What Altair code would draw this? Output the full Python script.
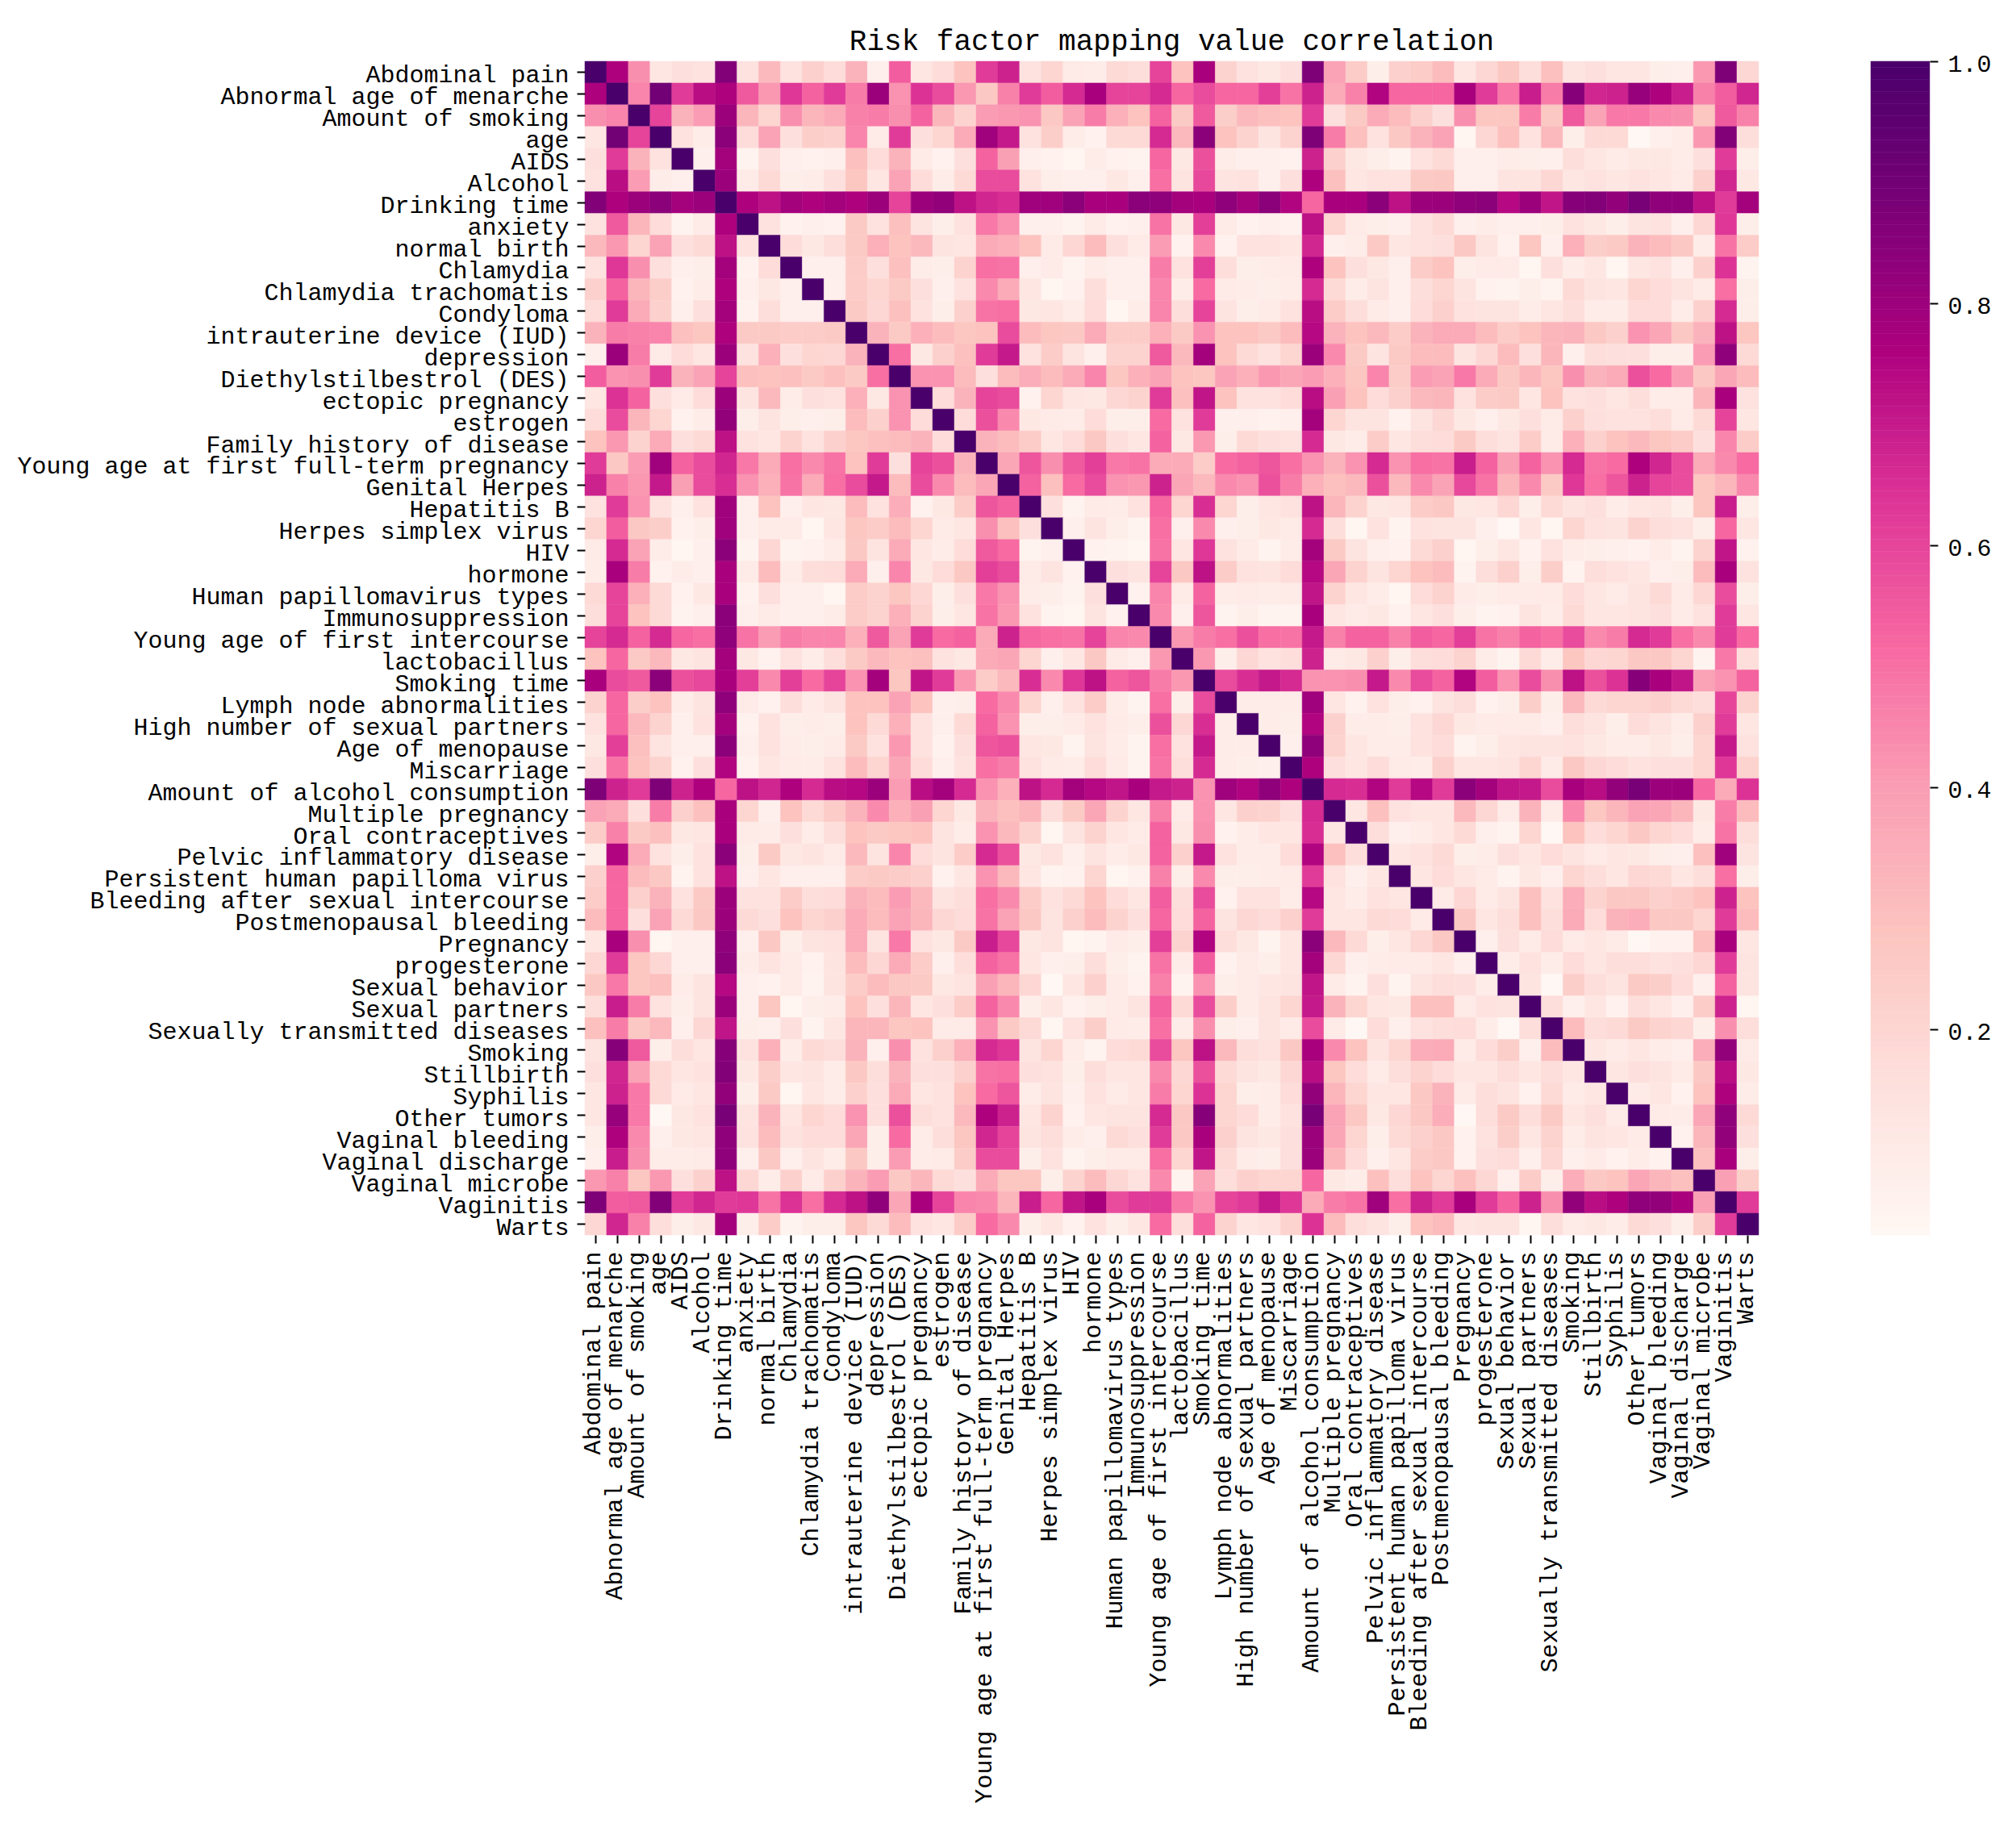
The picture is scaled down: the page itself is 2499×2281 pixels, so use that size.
import altair as alt
import pandas as pd

labels = ["Abdominal pain","Abnormal age of menarche","Amount of smoking","age","AIDS","Alcohol","Drinking time","anxiety","normal birth","Chlamydia","Chlamydia trachomatis","Condyloma","intrauterine device (IUD)","depression","Diethylstilbestrol (DES)","ectopic pregnancy","estrogen","Family history of disease","Young age at first full-term pregnancy","Genital Herpes","Hepatitis B","Herpes simplex virus","HIV","hormone","Human papillomavirus types","Immunosuppression","Young age of first intercourse","lactobacillus","Smoking time","Lymph node abnormalities","High number of sexual partners","Age of menopause","Miscarriage","Amount of alcohol consumption","Multiple pregnancy","Oral contraceptives","Pelvic inflammatory disease","Persistent human papilloma virus","Bleeding after sexual intercourse","Postmenopausal bleeding","Pregnancy","progesterone","Sexual behavior","Sexual partners","Sexually transmitted diseases","Smoking","Stillbirth","Syphilis","Other tumors","Vaginal bleeding","Vaginal discharge","Vaginal microbe","Vaginitis","Warts"]

# upper triangle of the correlation matrix, each row starting on the diagonal
r00 = [1,.76,.43,.12,.15,.14,.86,.14,.31,.14,.22,.17,.33,.07,.54,.12,.17,.28,.62,.68,.14,.20,.10,.09,.18,.16,.60,.28,.77,.21,.14,.11,.15,.87,.38,.24,.08,.22,.24,.30,.12,.19,.26,.16,.29,.13,.15,.12,.12,.08,.07,.41,.87,.19]
r01 = [1,.45,.90,.62,.73,.76,.55,.41,.63,.53,.62,.47,.80,.42,.64,.58,.41,.26,.46,.62,.54,.66,.77,.60,.60,.66,.52,.58,.52,.52,.61,.49,.68,.36,.46,.75,.52,.52,.52,.77,.62,.48,.69,.47,.85,.67,.68,.81,.76,.69,.46,.54,.67]
r02 = [1,.60,.33,.40,.80,.32,.20,.43,.32,.36,.46,.47,.43,.53,.32,.21,.40,.41,.42,.26,.38,.47,.34,.28,.53,.25,.55,.23,.31,.29,.28,.62,.15,.25,.36,.30,.22,.15,.43,.27,.27,.47,.26,.55,.38,.48,.48,.44,.43,.27,.55,.46]
r03 = [1,.14,.09,.84,.17,.38,.15,.23,.22,.45,.10,.62,.15,.20,.36,.79,.70,.14,.23,.09,.06,.18,.18,.66,.31,.84,.28,.21,.13,.21,.87,.47,.29,.14,.26,.33,.38,.04,.19,.29,.14,.31,.08,.18,.18,.03,.07,.09,.41,.86,.16]
r04 = [1,.07,.78,.05,.15,.07,.06,.07,.29,.17,.33,.10,.06,.15,.53,.39,.07,.06,.04,.09,.06,.05,.52,.11,.57,.09,.07,.07,.06,.68,.22,.11,.08,.05,.14,.18,.07,.07,.09,.08,.07,.16,.12,.10,.11,.11,.09,.15,.62,.08]
r05 = [1,.80,.10,.18,.08,.09,.15,.27,.12,.38,.17,.09,.18,.58,.58,.14,.08,.07,.07,.11,.07,.50,.13,.59,.13,.14,.07,.15,.76,.29,.12,.14,.14,.25,.26,.07,.07,.13,.13,.19,.12,.14,.12,.14,.12,.10,.22,.67,.11]
r06 = [1,.76,.72,.78,.76,.78,.76,.80,.60,.80,.82,.72,.67,.65,.79,.79,.84,.77,.77,.84,.83,.78,.77,.83,.78,.84,.75,.52,.77,.77,.84,.72,.80,.80,.83,.84,.74,.80,.71,.85,.86,.82,.88,.83,.83,.72,.62,.78]
r07 = [1,.14,.06,.07,.06,.25,.14,.29,.13,.08,.14,.48,.42,.07,.07,.05,.10,.06,.07,.49,.11,.61,.10,.06,.07,.06,.72,.20,.10,.08,.07,.14,.18,.07,.09,.07,.07,.08,.14,.11,.08,.13,.14,.07,.19,.63,.08]
r08 = [1,.17,.11,.16,.25,.34,.28,.31,.13,.12,.36,.34,.28,.10,.19,.30,.15,.10,.40,.06,.44,.06,.14,.14,.12,.67,.07,.09,.25,.12,.14,.15,.26,.13,.06,.27,.07,.34,.23,.25,.33,.30,.26,.09,.49,.24]
r09 = [1,.07,.07,.24,.15,.29,.09,.08,.21,.50,.49,.07,.10,.05,.09,.07,.07,.47,.14,.61,.16,.08,.09,.10,.76,.28,.15,.11,.07,.24,.28,.08,.10,.10,.04,.15,.09,.12,.04,.12,.14,.07,.22,.64,.05]
r10 = [1,.07,.24,.20,.25,.15,.07,.14,.44,.36,.12,.04,.06,.16,.07,.07,.45,.09,.51,.10,.09,.08,.09,.66,.18,.09,.13,.07,.16,.20,.13,.06,.05,.08,.05,.18,.13,.12,.20,.17,.13,.10,.50,.08]
r11 = [1,.25,.19,.29,.14,.08,.22,.49,.50,.11,.12,.09,.17,.04,.09,.45,.16,.60,.13,.08,.10,.14,.73,.24,.16,.10,.07,.17,.22,.14,.13,.13,.09,.12,.16,.09,.09,.17,.17,.09,.22,.66,.08]
r12 = [1,.33,.25,.34,.30,.27,.28,.58,.30,.27,.26,.36,.24,.24,.34,.25,.42,.28,.28,.25,.30,.74,.33,.28,.31,.24,.33,.36,.36,.30,.24,.28,.32,.33,.26,.22,.42,.37,.26,.33,.72,.27]
r13 = [1,.50,.11,.22,.29,.62,.70,.14,.24,.13,.07,.21,.21,.55,.31,.78,.28,.18,.14,.20,.80,.44,.25,.13,.25,.30,.30,.13,.19,.30,.15,.32,.07,.16,.15,.15,.08,.08,.40,.83,.18]
r14 = [1,.42,.42,.30,.15,.30,.35,.30,.36,.45,.27,.34,.38,.28,.27,.38,.34,.41,.37,.40,.34,.27,.45,.24,.40,.38,.48,.36,.26,.32,.27,.43,.33,.36,.57,.51,.40,.26,.37,.30]
r15 = [1,.17,.33,.60,.58,.06,.20,.12,.11,.19,.21,.62,.29,.71,.28,.14,.14,.17,.73,.39,.28,.17,.22,.31,.32,.14,.24,.25,.12,.28,.14,.15,.12,.16,.09,.09,.32,.77,.14]
r16 = [1,.17,.57,.44,.11,.10,.09,.17,.08,.08,.51,.14,.62,.07,.07,.06,.07,.78,.20,.13,.13,.06,.13,.19,.11,.07,.11,.15,.10,.22,.15,.14,.14,.16,.10,.18,.60,.12]
r17 = [1,.33,.30,.24,.12,.17,.26,.15,.12,.53,.11,.41,.08,.18,.15,.14,.66,.11,.09,.24,.12,.16,.17,.25,.16,.13,.24,.10,.34,.22,.28,.31,.27,.24,.15,.45,.24]
r18 = [1,.37,.56,.43,.55,.61,.48,.49,.36,.36,.24,.51,.53,.56,.50,.42,.33,.42,.66,.42,.50,.49,.69,.53,.39,.53,.42,.66,.49,.51,.76,.67,.58,.36,.44,.51]
r19 = [1,.53,.29,.51,.58,.42,.41,.68,.37,.31,.44,.42,.57,.47,.34,.29,.31,.57,.31,.44,.38,.59,.49,.32,.44,.25,.63,.50,.56,.68,.60,.58,.27,.32,.44]
r20 = [1,.15,.05,.10,.09,.14,.52,.20,.65,.20,.08,.12,.14,.72,.32,.21,.11,.12,.24,.26,.11,.12,.19,.08,.18,.13,.15,.09,.12,.13,.08,.27,.69,.08]
r21 = [1,.07,.13,.08,.05,.50,.07,.44,.07,.08,.11,.10,.66,.16,.04,.14,.05,.14,.13,.13,.07,.03,.12,.04,.20,.14,.13,.21,.16,.14,.08,.52,.12]
r22 = [1,.06,.05,.04,.49,.12,.63,.14,.10,.05,.09,.78,.25,.13,.07,.06,.18,.22,.04,.08,.12,.06,.14,.09,.08,.07,.06,.09,.05,.21,.71,.06]
r23 = [1,.15,.13,.60,.26,.72,.24,.14,.13,.17,.74,.37,.21,.13,.20,.28,.30,.05,.16,.22,.08,.23,.05,.16,.14,.12,.07,.08,.30,.77,.14]
r24 = [1,.06,.45,.10,.53,.09,.10,.09,.10,.71,.21,.12,.09,.04,.17,.21,.10,.08,.10,.10,.10,.17,.12,.10,.13,.18,.10,.19,.58,.08]
r25 = [1,.44,.07,.56,.05,.08,.05,.05,.77,.12,.10,.11,.06,.12,.15,.08,.05,.06,.13,.09,.18,.12,.12,.13,.15,.10,.14,.62,.12]
r26 = [1,.41,.47,.50,.57,.50,.49,.70,.46,.53,.53,.46,.54,.52,.61,.49,.46,.53,.50,.58,.44,.47,.66,.62,.50,.44,.62,.51]
r27 = [1,.41,.08,.19,.14,.16,.68,.10,.11,.22,.08,.16,.17,.21,.09,.05,.18,.09,.27,.19,.20,.26,.26,.20,.05,.48,.16]
r28 = [1,.58,.65,.70,.66,.42,.42,.43,.70,.44,.58,.53,.75,.54,.42,.58,.43,.72,.57,.64,.85,.77,.71,.38,.42,.53]
r29 = [1,.09,.09,.09,.79,.12,.06,.14,.08,.06,.13,.16,.06,.08,.23,.08,.31,.18,.20,.20,.22,.18,.16,.60,.21]
r30 = [1,.09,.08,.75,.22,.09,.09,.08,.14,.19,.11,.10,.10,.10,.07,.16,.13,.08,.17,.13,.09,.22,.62,.12]
r31 = [1,.07,.83,.21,.12,.09,.09,.14,.17,.05,.08,.12,.13,.13,.14,.11,.09,.09,.11,.08,.20,.70,.14]
r32 = [1,.76,.15,.12,.17,.10,.09,.22,.12,.12,.13,.20,.10,.26,.19,.17,.14,.15,.15,.20,.63,.21]
r33 = [1,.66,.65,.75,.62,.74,.62,.84,.78,.71,.70,.58,.77,.73,.82,.88,.80,.80,.52,.36,.64]
r34 = [1,.12,.29,.14,.12,.12,.31,.19,.10,.33,.10,.44,.27,.32,.38,.37,.32,.11,.47,.30]
r35 = [1,.16,.07,.09,.12,.18,.07,.05,.20,.03,.28,.17,.20,.26,.20,.17,.09,.49,.16]
r36 = [1,.12,.14,.18,.08,.09,.15,.12,.17,.13,.10,.12,.11,.08,.07,.29,.79,.13]
r37 = [1,.12,.17,.12,.10,.05,.11,.07,.20,.16,.12,.19,.18,.12,.16,.50,.08]
r38 = [1,.10,.19,.10,.13,.29,.14,.35,.21,.26,.26,.22,.24,.28,.68,.28]
r39 = [1,.26,.12,.16,.29,.16,.36,.17,.33,.35,.26,.26,.20,.62,.30]
r40 = [1,.07,.15,.10,.17,.10,.12,.10,.03,.06,.06,.29,.77,.12]
r41 = [1,.09,.14,.09,.17,.12,.16,.16,.14,.15,.19,.62,.13]
r42 = [1,.13,.03,.23,.16,.13,.25,.23,.17,.07,.53,.13]
r43 = [1,.16,.07,.12,.06,.16,.12,.07,.24,.68,.04]
r44 = [1,.30,.16,.18,.25,.21,.19,.08,.43,.16]
r45 = [1,.12,.10,.12,.09,.07,.35,.82,.10]
r46 = [1,.12,.15,.13,.10,.26,.73,.11]
r47 = [1,.10,.12,.06,.28,.76,.09]
r48 = [1,.10,.09,.37,.83,.18]
r49 = [1,.06,.32,.82,.15]
r50 = [1,.29,.77,.08]
r51 = [1,.39,.23]
r52 = [1,.62]
r53 = [1]
upper = [r00,r01,r02,r03,r04,r05,r06,r07,r08,r09,r10,r11,r12,r13,r14,r15,r16,r17,r18,r19,r20,r21,r22,r23,r24,r25,r26,r27,r28,r29,r30,r31,r32,r33,r34,r35,r36,r37,r38,r39,r40,r41,r42,r43,r44,r45,r46,r47,r48,r49,r50,r51,r52,r53]

cbar_ticks = [0.2, 0.4, 0.6, 0.8, 1.0]
vmin, vmax = 0.03, 1.0
rdpu = ["#fff7f3","#fde0dd","#fcc5c0","#fa9fb5","#f768a1","#dd3497","#ae017e","#7a0177","#49006a"]
stops = [vmin + (vmax - vmin) * i / 8 for i in range(9)]

records = []
for i, row in enumerate(upper):
    for k, v in enumerate(row):
        j = i + k
        records.append({"x": labels[j], "y": labels[i], "v": v})
        if j != i:
            records.append({"x": labels[i], "y": labels[j], "v": v})
df = pd.DataFrame(records)

cbar = pd.DataFrame([{"lo": p / 200, "hi": (p + 1) / 200} for p in range(6, 200)])

FONT = "Liberation Mono"
color_scale = alt.Scale(domain=stops, range=rdpu, interpolate="rgb")
band = alt.Scale(domain=labels, paddingInner=0, paddingOuter=0)

heat = (
    alt.Chart(df, width=1455, height=1455)
    .mark_rect(strokeWidth=0.5)
    .encode(
        x=alt.X("x:N", sort=labels, scale=band, title=None,
                axis=alt.Axis(labelAngle=270, labelOverlap=False, labelFontSize=30, labelLimit=1000, tickSize=10,
                              tickWidth=2, labelPadding=10, labelOffset=-3, domain=False, grid=False)),
        y=alt.Y("y:N", sort=labels, scale=band, title=None,
                axis=alt.Axis(labelOverlap=False, labelFontSize=30, labelLimit=1000, tickSize=10,
                              tickWidth=2, labelPadding=10, labelOffset=4, domain=False, grid=False)),
        color=alt.Color("v:Q", scale=color_scale, legend=None),
        stroke=alt.Stroke("v:Q", scale=color_scale, legend=None),
    )
    .properties(title=alt.TitleParams("Risk factor mapping value correlation", fontSize=36,
                                      font=FONT, fontWeight="normal", anchor="middle", offset=6, color="black"))
)

bar = (
    alt.Chart(cbar, width=73, height=1455)
    .mark_rect(strokeWidth=0.5)
    .encode(
        y=alt.Y("lo:Q", scale=alt.Scale(domain=[vmin, vmax], nice=False, zero=False), title=None,
                axis=alt.Axis(orient="right", values=cbar_ticks, format=".1f", labelFontSize=30, tickSize=10,
                              tickWidth=2, labelPadding=12, labelOffset=3, domain=False, grid=False)),
        y2="hi:Q",
        color=alt.Color("lo:Q", scale=color_scale, legend=None),
        stroke=alt.Stroke("lo:Q", scale=color_scale, legend=None),
    )
)

chart = (
    alt.hconcat(heat, bar, spacing=137)
    .resolve_scale(color="independent", stroke="independent", y="independent", x="independent")
    .properties(padding={"left": 12, "top": 24, "right": 20, "bottom": 20}, background="white")
    .configure_view(stroke=None)
    .configure_axis(labelFont=FONT, labelColor="black", tickColor="black")
)

chart.save("out.html", embed_options={"renderer": "svg", "actions": False})
